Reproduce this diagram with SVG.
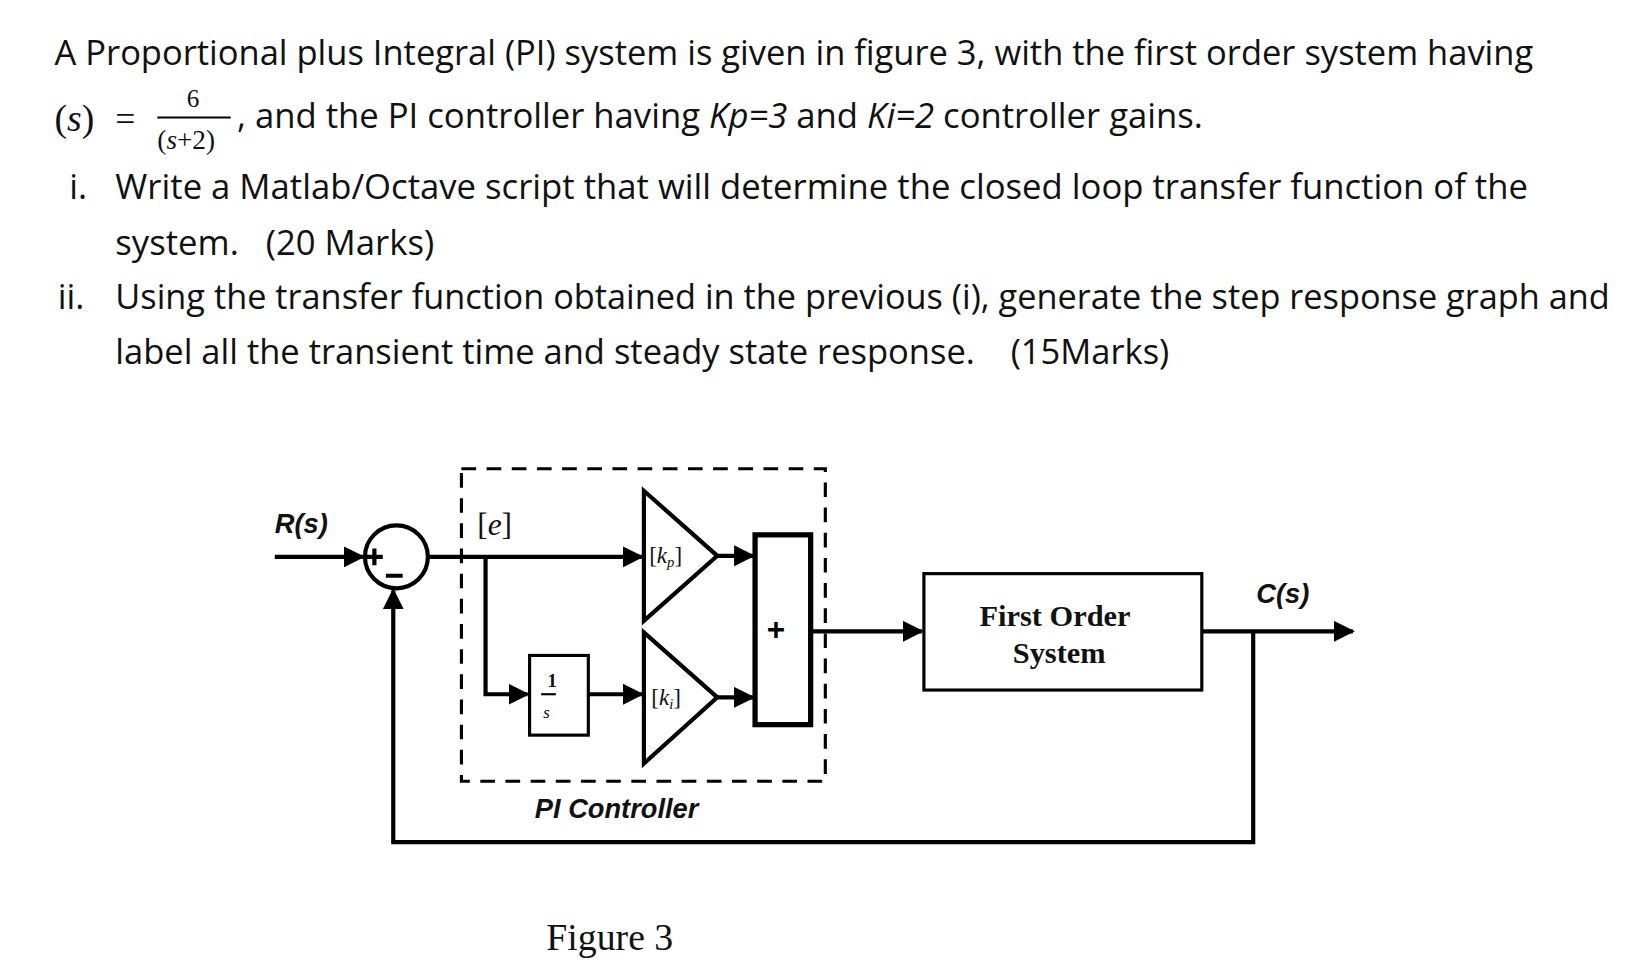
<svg xmlns="http://www.w3.org/2000/svg" width="1636" height="976" viewBox="0 0 1636 976">
<style>
text{white-space:pre}
.t{font-family:"Open Sans","Noto Sans",sans-serif;font-size:33px;fill:#111}
.m{font-family:"Liberation Serif",serif;fill:#111}
.ln{stroke:#000;stroke-width:4;fill:none}
.bi{font-family:"Liberation Sans",sans-serif;font-weight:bold;font-style:italic;fill:#111}
</style>
<defs>
<marker id="a" viewBox="0 0 10 10" refX="9" refY="5" markerWidth="5" markerHeight="5" orient="auto" markerUnits="strokeWidth"><path d="M0,0 L10,5 L0,10 z" fill="#000"/></marker>
</defs>
<rect width="1636" height="976" fill="#fff"/>
<g transform="scale(1.0487)">
<g id="text">
<text class="t" x="52" y="62" textLength="1410" lengthAdjust="spacingAndGlyphs">A Proportional plus Integral (PI) system is given in figure 3, with the first order system having</text>
<text class="m" x="52" y="125" font-size="36">(<tspan font-style="italic">s</tspan>)</text>
<text class="m" x="110" y="125" font-size="34">=</text>
<text class="m" x="178" y="102" font-size="24">6</text>
<line x1="150" y1="112" x2="220" y2="112" stroke="#000" stroke-width="2"/>
<text class="m" x="150" y="142" font-size="26">(<tspan font-style="italic">s</tspan>+2)</text>
<text class="t" x="226" y="122" textLength="921" lengthAdjust="spacingAndGlyphs">, and the PI controller having <tspan font-style="italic">Kp=3</tspan> and <tspan font-style="italic">Ki=2</tspan> controller gains.</text>
<text class="t" x="66" y="190">i.</text>
<text class="t" x="110" y="190" textLength="1347" lengthAdjust="spacingAndGlyphs">Write a Matlab/Octave script that will determine the closed loop transfer function of the</text>
<text class="t" x="110" y="243" textLength="304" lengthAdjust="spacingAndGlyphs">system.   (20 Marks)</text>
<text class="t" x="55" y="295">ii.</text>
<text class="t" x="110" y="295" textLength="1425" lengthAdjust="spacingAndGlyphs">Using the transfer function obtained in the previous (i), generate the step response graph and</text>
<text class="t" x="110" y="347" textLength="1005" lengthAdjust="spacingAndGlyphs">label all the transient time and steady state response.    (15Marks)</text>
<text class="m" x="521" y="906" font-size="36">Figure 3</text>
</g>
<g id="pi-box">
<rect x="440" y="447" width="347" height="298" fill="none" stroke="#000" stroke-width="3" stroke-dasharray="14,10"/>
<text class="bi" x="510" y="780" font-size="26">PI Controller</text>
</g>
<g id="sum">
<circle cx="378" cy="531" r="30" fill="#fff" stroke="#000" stroke-width="4"/>
<path d="M349,531 h16 M357,523 v16 M368,549 h16" stroke="#000" stroke-width="4"/>
</g>
<g id="integrator">
<rect x="505" y="625" width="56" height="76" fill="#fff" stroke="#000" stroke-width="3"/>
<text class="m" x="522" y="655" font-size="18" font-weight="bold">1</text>
<line x1="516" y1="662" x2="530" y2="662" stroke="#000" stroke-width="2"/>
<text class="m" x="518" y="685" font-size="16" font-style="italic">s</text>
</g>
<g id="kp">
<path d="M614,468 L614,592 L684,530 z" fill="#fff" stroke="#000" stroke-width="4"/>
<text class="m" x="619" y="537" font-size="22" fill="#555">[<tspan font-style="italic">k</tspan><tspan font-size="14" dy="4" font-style="italic">p</tspan><tspan dy="-4">]</tspan></text>
</g>
<g id="ki">
<path d="M614,603 L614,728 L684,665 z" fill="#fff" stroke="#000" stroke-width="4"/>
<text class="m" x="621" y="672" font-size="22" fill="#555">[<tspan font-style="italic">k</tspan><tspan font-size="14" dy="4" font-style="italic">i</tspan><tspan dy="-4">]</tspan></text>
</g>
<g id="adder">
<rect x="720" y="510" width="53" height="181" fill="#fff" stroke="#000" stroke-width="5"/>
<text x="740" y="610" font-family="Liberation Sans,sans-serif" font-weight="bold" font-size="30" text-anchor="middle">+</text>
</g>
<g id="plant">
<rect x="881" y="547" width="265" height="111" fill="#fff" stroke="#000" stroke-width="3"/>
<text class="m" x="1006" y="597" font-size="29" font-weight="bold" text-anchor="middle">First Order</text>
<text class="m" x="1010" y="632" font-size="29" font-weight="bold" text-anchor="middle">System</text>
</g>
<g id="labels">
<text class="bi" x="262" y="508" font-size="26">R(s)</text>
<text class="bi" x="1198" y="575" font-size="26">C(s)</text>
<text class="m" x="455" y="510" font-size="30">[<tspan font-style="italic">e</tspan>]</text>
</g>
<g id="connectors">
<line class="ln" x1="262" y1="531" x2="346" y2="531" marker-end="url(#a)"/>
<line class="ln" x1="408" y1="531" x2="612" y2="531" marker-end="url(#a)"/>
<polyline class="ln" points="463,531 463,662 503,662" marker-end="url(#a)"/>
<line class="ln" x1="561" y1="662" x2="612" y2="662" marker-end="url(#a)"/>
<line class="ln" x1="684" y1="530" x2="718" y2="530" marker-end="url(#a)"/>
<line class="ln" x1="684" y1="665" x2="718" y2="665" marker-end="url(#a)"/>
<line class="ln" x1="775" y1="602" x2="879" y2="602" marker-end="url(#a)"/>
<line class="ln" x1="1146" y1="602" x2="1290" y2="602" marker-end="url(#a)"/>
<polyline class="ln" points="1195,602 1195,803 375,803 375,563" marker-end="url(#a)"/>
</g>
</g>
</svg>
